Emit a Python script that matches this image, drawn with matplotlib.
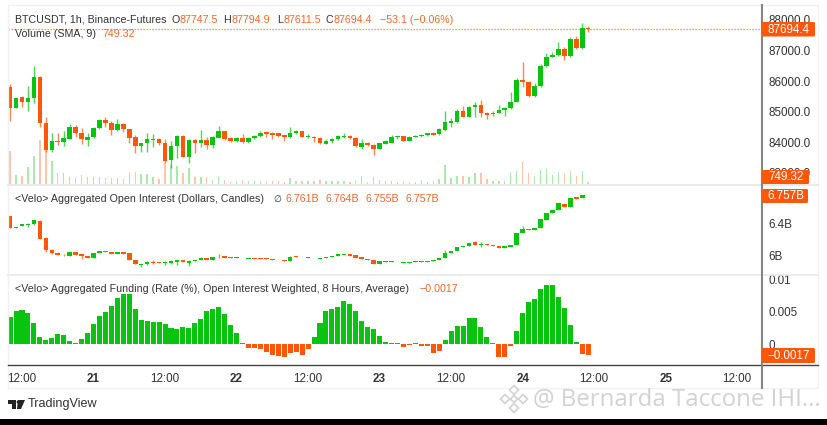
import numpy as np
import matplotlib
matplotlib.use('Agg')
import matplotlib.pyplot as plt
from matplotlib.patches import FancyBboxPatch, Polygon, Rectangle

plt.rcParams['font.family'] = ['Liberation Sans', 'DejaVu Sans']

GREEN = '#08C40F'
RED = '#FF5608'
TEXT = '#333333'
ORANGE = '#F0672B'

W, H = 827, 425

price_open = [85822, 85136, 85473, 85321, 85462, 86127, 84645, 83753, 84057, 84014,
              84112, 84504, 84319, 84079, 84177, 84460, 84722, 84635, 84406, 84613,
              84428, 84188, 83883, 83970, 84079, 84101, 83992, 83426, 83883, 84210,
              83513, 84079, 83970, 84068, 83927, 84155, 84362, 84134, 84036, 84145,
              84014, 84134, 84210, 84330, 84297, 84297, 84232, 84166, 84297, 84373,
              84188, 84188, 84155, 83949, 84046, 84101, 84166, 84210, 84145, 83861,
              83970, 83916, 83785, 83959, 83992, 84188, 84199, 84046, 84177, 84210,
              84243, 84308, 84264, 84406, 84645, 84667, 85037, 84842, 85168, 85212,
              84972, 84918, 84961, 85048, 85114, 85332, 86039, 85985, 85506, 85843,
              86497, 86791, 86845, 87063, 86824, 87368, 87085, 87747.5]
price_high = [85909, 85462, 85517, 85843, 86497, 86170, 84842, 84319, 84297, 84384,
              84602, 84569, 84460, 84319, 84493, 84754, 84820, 84711, 84776, 84645,
              84449, 84243, 83992, 84319, 84264, 84134, 84123, 84036, 84243, 84243,
              84101, 84101, 84406, 84166, 84210, 84547, 84384, 84166, 84188, 84275,
              84166, 84243, 84362, 84384, 84341, 84319, 84253, 84515, 84395, 84384,
              84264, 84210, 84177, 84101, 84155, 84243, 84297, 84243, 84166, 84101,
              84025, 83949, 83992, 84079, 84243, 84221, 84221, 84210, 84253, 84275,
              84308, 84330, 84471, 85027, 84798, 85081, 85190, 85190, 85332, 85386,
              84994, 85016, 85223, 85146, 85647, 86094, 86617, 86007, 85931, 86551,
              86911, 86965, 87281, 87107, 87455, 87477, 87891, 87794.9]
price_low = [84711, 85114, 85146, 85037, 85277, 84515, 83698, 83698, 83905, 83883,
             84101, 84188, 83949, 83883, 84155, 84428, 84493, 84232, 84384, 84351,
             83992, 83665, 83687, 83698, 83861, 83905, 83317, 83154, 83480, 83513,
             83339, 83665, 83861, 83774, 83807, 84134, 84079, 84014, 84014, 83970,
             83992, 84123, 84188, 84166, 84123, 84166, 84057, 84145, 84286, 84166,
             84145, 84025, 83949, 83938, 83992, 84079, 84145, 84101, 83861, 83785,
             83894, 83589, 83774, 83938, 83970, 84101, 84036, 84036, 84166, 84188,
             84210, 84243, 84253, 84384, 84515, 84624, 84820, 84820, 84842, 84820,
             84765, 84863, 84950, 84874, 85081, 85310, 85822, 85484, 85484, 85822,
             86475, 86780, 86834, 86693, 86802, 87063, 87063, 87611.5]
price_close = [85136, 85462, 85321, 85462, 86127, 84624, 83753, 84057, 84014, 84134,
               84504, 84319, 84101, 84177, 84471, 84722, 84624, 84406, 84613, 84449,
               84155, 83883, 83970, 84101, 84112, 83992, 83404, 83883, 84210, 83535,
               84079, 83970, 84079, 83927, 84166, 84362, 84112, 84036, 84155, 84014,
               84145, 84221, 84319, 84275, 84243, 84221, 84166, 84297, 84373, 84177,
               84210, 84155, 83970, 84057, 84101, 84210, 84210, 84145, 83883, 83970,
               83905, 83785, 83970, 84036, 84188, 84210, 84046, 84188, 84221, 84243,
               84297, 84253, 84439, 84656, 84689, 85037, 84842, 85168, 85212, 84961,
               84907, 84961, 85048, 85125, 85332, 86039, 85985, 85506, 85843, 86508,
               86791, 86856, 87063, 86824, 87368, 87085, 87738, 87694.4]

volume = [3490, 970, 900, 1870, 2950, 4750, 4030, 2450, 1220, 1150,
          790, 610, 970, 720, 720, 790, 680, 610, 610, 500,
          1260, 1300, 1080, 1080, 790, 500, 2230, 2050, 1940, 1150,
          1760, 790, 790, 790, 430, 720, 430, 250, 320, 430,
          320, 320, 320, 320, 320, 320, 250, 610, 320, 360,
          320, 360, 430, 360, 320, 290, 290, 220, 430, 900,
          220, 790, 430, 320, 320, 250, 290, 250, 250, 430,
          250, 320, 500, 2020, 610, 860, 900, 790, 1150, 1150,
          500, 320, 360, 320, 1330, 1400, 2340, 1150, 790, 1480,
          1580, 970, 1330, 1220, 1370, 860, 1400, 180]

oi_open = [6.490, 6.331, 6.356, 6.374, 6.383, 6.426, 6.209, 6.061, 6.025, 6.004,
           5.992, 6.041, 6.008, 5.992, 5.968, 6.025, 6.053, 6.041, 6.013, 6.033,
           6.025, 5.936, 5.879, 5.887, 5.919, 5.911, 5.899, 5.903, 5.911, 5.944,
           5.907, 5.932, 5.944, 5.964, 5.940, 5.972, 5.988, 5.976, 5.964, 5.968,
           5.956, 5.964, 5.960, 5.960, 5.952, 5.944, 5.940, 5.932, 5.984, 5.980,
           5.976, 5.968, 5.956, 5.964, 5.976, 5.992, 6.000, 6.008, 6.000, 5.976,
           5.952, 5.944, 5.895, 5.911, 5.911, 5.919, 5.907, 5.907, 5.911, 5.915,
           5.919, 5.923, 5.936, 5.960, 6.025, 6.049, 6.098, 6.110, 6.155, 6.122,
           6.139, 6.126, 6.114, 6.090, 6.102, 6.122, 6.270, 6.329, 6.316, 6.331,
           6.444, 6.527, 6.575, 6.654, 6.615, 6.743, 6.725, 6.761]
oi_close = [6.331, 6.352, 6.383, 6.387, 6.434, 6.196, 6.057, 6.021, 6.004, 5.996,
            6.041, 6.004, 5.992, 5.968, 6.025, 6.053, 6.037, 6.013, 6.037, 6.017,
            5.936, 5.887, 5.891, 5.919, 5.903, 5.899, 5.915, 5.923, 5.944, 5.911,
            5.932, 5.944, 5.968, 5.940, 5.972, 5.980, 5.968, 5.968, 5.972, 5.960,
            5.964, 5.956, 5.952, 5.952, 5.944, 5.936, 5.932, 5.976, 5.976, 5.972,
            5.968, 5.960, 5.968, 5.976, 5.992, 6.008, 6.013, 5.992, 5.968, 5.952,
            5.940, 5.895, 5.923, 5.927, 5.923, 5.911, 5.915, 5.919, 5.923, 5.927,
            5.932, 5.940, 5.964, 6.025, 6.053, 6.098, 6.114, 6.151, 6.122, 6.139,
            6.126, 6.114, 6.090, 6.106, 6.122, 6.274, 6.329, 6.307, 6.341, 6.448,
            6.531, 6.575, 6.659, 6.611, 6.734, 6.721, 6.770, 6.757]
# only bars with a visible wick, the rest stop at the body
oi_wick_high = {3: 6.404, 4: 6.452, 5: 6.434, 6: 6.226, 7: 6.069, 8: 6.037, 9: 6.017, 12: 6.017,
                23: 5.932, 24: 5.936, 26: 5.927, 27: 5.944, 28: 5.952, 30: 5.940, 32: 5.980,
                35: 6.008, 47: 5.988, 73: 6.061, 78: 6.175, 79: 6.155, 86: 6.356, 97: 6.764}
oi_wick_low = {3: 6.352, 4: 6.374, 5: 6.192, 6: 6.041, 7: 6.013, 8: 6.000, 9: 5.984, 12: 5.948,
               22: 5.855, 23: 5.879, 24: 5.895, 26: 5.879, 27: 5.887, 28: 5.879, 30: 5.863,
               32: 5.936, 35: 5.968, 79: 6.098, 97: 6.755}

funding = [.00426, .00508, .00533, .00487, .00323, .00108, .00067, .00092, .00154, .00138,
           .00046, .00015, .00087, .00169, .00313, .00436, .00497, .00595, .00713, .00779,
           .00779, .00544, .00369, .00364, .00344, .00338, .00308, .00251, .00231, .00262,
           .00251, .00328, .00395, .00513, .00549, .00569, .00462, .00292, .00174, .00015,
           -.00062, -.00062, -.00067, -.00118, -.00169, -.00185, -.0019, -.00128, -.00113, -.00169,
           -.00072, .00108, .00323, .00508, .00544, .00574, .00667, .00615, .00513, .00359,
           .00272, .00236, .00123, .00036, .0002, .0002, -.00046, -.00015, .00015, -.0002,
           -.0003, -.00128, -.00097, .00072, .0021, .00277, .00277, .004, .00405, .00272,
           .00108, .00015, -.00195, -.0019, -.00026, .0021, .00477, .00651, .00697, .00851,
           .00913, .00913, .00733, .00564, .00297, .00036, -.00154, -.0017]

time_ticks = [2, 14, 26, 38, 50, 62, 74, 86, 98, 110, 122]
time_labels = ['12:00', '21', '12:00', '22', '12:00', '23', '12:00', '24', '12:00', '25', '12:00']
price_ticks = [83000, 84000, 85000, 86000, 87000, 88000]
oi_ticks = [6.0, 6.4]
oi_tick_labels = ['6B', '6.4B']
funding_ticks = [0, 0.005, 0.01]
funding_tick_labels = ['0', '0.005', '0.01']

LEFT, RIGHT = 8, 762
XLIM = (-0.349, 126.16)
bars = np.arange(len(price_close))


def pane(top, bottom):
    ax = fig.add_axes([LEFT / W, 1 - bottom / H, (RIGHT - LEFT) / W, (bottom - top) / H])
    ax.set_xlim(*XLIM)
    ax.set_xticks([])
    ax.yaxis.tick_right()
    ax.tick_params(axis='y', length=0, pad=4.5, labelsize=8.4, labelcolor=TEXT)
    for side in ax.spines.values():
        side.set_visible(False)
    return ax


def candles(ax, o, h, l, c, width=0.76, wick=1.0):
    o, h, l, c = map(np.asarray, (o, h, l, c))
    colors = np.where(c >= o, GREEN, RED)
    ax.vlines(bars, l, h, colors=list(colors), linewidth=wick, alpha=0.7, zorder=2)
    ax.bar(bars, np.abs(c - o), bottom=np.minimum(o, c), width=width, color=list(colors), zorder=3)


def tag(x0, x1, y0, y1, label):
    canvas.add_patch(FancyBboxPatch((x0, y0), x1 - x0, y1 - y0, boxstyle='round,pad=0,rounding_size=1.5',
                                    fc=RED, ec='none', zorder=6))
    canvas.text((x0 + x1) / 2 + 0.5, (y0 + y1) / 2 + 0.3, label, color='white', fontsize=8.4,
                ha='center', va='center', zorder=7)


def label(x, y, s, color=TEXT, size=7.7, **kw):
    canvas.text(x, y, s, color=color, fontsize=size, va='center', ha='left', zorder=7, **kw)


fig = plt.figure(figsize=(W / 100, H / 100), dpi=100, facecolor='white')

# price pane with volume behind it
ax_price = pane(5, 184)
ax_price.set_ylim(82640, 88490)
ax_vol = ax_price.twinx()
ax_vol.set_ylim(0, 19150)
ax_vol.axis('off')
ax_price.yaxis.tick_right()
ax_price.set_zorder(ax_vol.get_zorder() + 1)
ax_price.patch.set_visible(False)
vol_colors = [GREEN if c >= o else RED for o, c in zip(price_open, price_close)]
ax_vol.bar(bars, volume, width=0.24, color=vol_colors, alpha=0.34)
candles(ax_price, price_open, price_high, price_low, price_close)
ax_price.axhline(price_close[-1], color=RED, linewidth=0.9, linestyle=(0, (1, 1.4)), alpha=0.8)
ax_price.set_yticks(price_ticks, [f'{p:.1f}' for p in price_ticks])

# open interest pane
ax_oi = pane(186, 275)
ax_oi.set_yscale('log')
ax_oi.set_ylim(5.763, 6.896)
oi_high = [oi_wick_high.get(i, max(oi_open[i], oi_close[i])) for i in bars]
oi_low = [oi_wick_low.get(i, min(oi_open[i], oi_close[i])) for i in bars]
candles(ax_oi, oi_open, oi_high, oi_low, oi_close)
ax_oi.set_yticks(oi_ticks, oi_tick_labels)
ax_oi.minorticks_off()

# funding pane, carries the time axis
ax_fund = pane(276, 365)
ax_fund.set_ylim(-0.00317, 0.01048)
fund_colors = [GREEN if v >= 0 else RED for v in funding]
ax_fund.bar(bars, funding, width=0.84, color=fund_colors)
ax_fund.set_yticks(funding_ticks, funding_tick_labels)
ax_fund.set_xticks(time_ticks, time_labels)
ax_fund.tick_params(axis='x', length=0, pad=6, labelsize=8.4, labelcolor=TEXT)
for tick_label, text in zip(ax_fund.get_xticklabels(), time_labels):
    if ':' not in text:
        tick_label.set_fontweight('bold')

# everything around the panes, in pixel coordinates
canvas = fig.add_axes([0, 0, 1, 1], zorder=10)
canvas.set_xlim(0, W)
canvas.set_ylim(H, 0)
canvas.axis('off')

canvas.add_patch(Rectangle((8, 5), 810, 383, fc='none', ec='#f1f1f1', lw=1))
canvas.plot([8, 818], [184.7, 184.7], color='#e6e6e6', lw=1.2)
canvas.plot([8, 818], [275.3, 275.3], color='#e9e9e9', lw=1.2)
canvas.plot([8, 818], [365, 365], color='#444444', lw=1)
canvas.plot([762, 762], [5, 388], color='#858585', lw=1.5)
canvas.add_patch(Rectangle((0, 419), W, 6, fc='black', ec='none'))

label(15, 19.5, 'BTCUSDT, 1h, Binance-Futures')
label(171, 19.5, 'O')
label(179, 19.5, '87747.5', ORANGE)
label(223, 19.5, 'H')
label(231, 19.5, '87794.9', ORANGE)
label(277, 19.5, 'L')
label(283, 19.5, '87611.5', ORANGE)
label(326, 19.5, 'C')
label(333, 19.5, '87694.4', ORANGE)
label(380, 19.5, '\u221253.1 (\u22120.06%)', ORANGE)
label(15, 34, 'Volume (SMA, 9)')
label(102, 34, '749.32', ORANGE)
label(15, 199, '<Velo> Aggregated Open Interest (Dollars, Candles)')
label(273, 199, '\u2205', size=6.5)
label(286, 199, '6.761B', ORANGE)
label(325, 199, '6.764B', ORANGE)
label(365, 199, '6.755B', ORANGE)
label(405, 199, '6.757B', ORANGE)
label(15, 289.5, '<Velo> Aggregated Funding (Rate (%), Open Interest Weighted, 8 Hours, Average)')
label(420, 289.5, '\u22120.0017', ORANGE)

tag(762, 815, 22, 36.5, '87694.4')
tag(762, 809, 170, 184, '749.32')
tag(762, 808, 189, 203, '6.757B')
tag(762, 815, 348, 363, '\u22120.0017')

# TradingView mark and name
canvas.add_patch(Polygon([(8, 400), (16, 400), (16, 409), (12, 409), (12, 404), (8, 404)], fc='#222222', ec='none'))
canvas.add_patch(Polygon([(18, 400), (25, 400), (21, 409), (17, 409)], fc='#222222', ec='none'))
canvas.add_patch(plt.Circle((18.2, 402), 1.6, fc='#222222', ec='none'))
label(28, 404.5, 'TradingView', TEXT, size=9.1)

# watermark
wm = '#d2d2d2'
for dx, dy, r in [(0, -9, 4.5), (-9, 0, 4.5), (9, 0, 4.5), (0, 9, 4.5), (0, 0, 3.5)]:
    canvas.add_patch(Polygon([(514 + dx, 399 + dy - r), (514 + dx + r, 399 + dy), (514 + dx, 399 + dy + r),
                              (514 + dx - r, 399 + dy)], fc='white', ec=wm, lw=1.2))
label(533, 400, '@ Bernarda Taccone IHI...', wm, size=17.3, family=['Open Sans', 'DejaVu Sans'])

fig.savefig('out.png', dpi=100, facecolor='white')
